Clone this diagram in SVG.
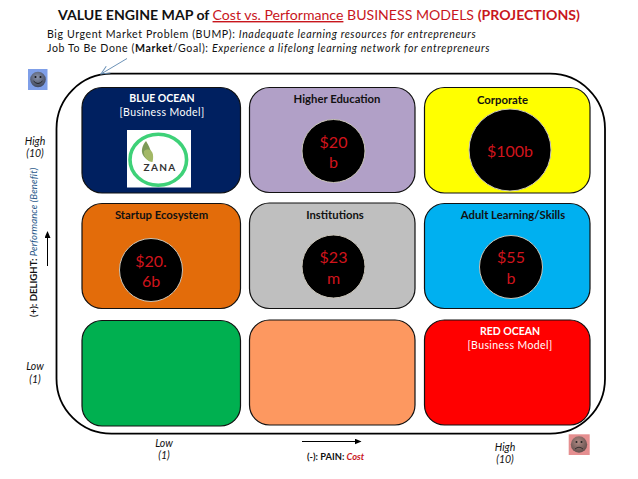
<svg xmlns="http://www.w3.org/2000/svg" width="638" height="479" viewBox="0 0 638 479">
<style>
text{font-family:Lato,"Open Sans",sans-serif;fill:#111}
.cell{stroke:#111;stroke-width:1.2}
.head{font-size:11.3px;font-weight:700;text-anchor:middle}
.ocean{font-size:10.5px;font-weight:700;text-anchor:middle;fill:#fff}
.sub{font-size:10.5px;text-anchor:middle;letter-spacing:.4px;fill:#fff}
.coin{fill:#000;stroke:#c9c4b8;stroke-width:1}
.val{font-size:16px;fill:#d0141c;text-anchor:middle}
.ax{font-size:10.5px;font-style:italic;text-anchor:middle}
.note{font-size:10.6px;letter-spacing:.6px}
.ln{fill:none;stroke:#000;stroke-width:1}
.red{fill:#c8161d}
</style>
<defs>
<marker id="a" markerWidth="7" markerHeight="6" refX="6" refY="3" orient="auto" markerUnits="userSpaceOnUse"><path d="M0 0L7 3L0 6z" fill="#000"/></marker>
<marker id="o" markerWidth="11" markerHeight="10" refX="9.5" refY="5" orient="auto" markerUnits="userSpaceOnUse"><path d="M1 1L9.5 5L1 9" fill="none" stroke="#6d93b8" stroke-width="1"/></marker>
<radialGradient id="sm" cx=".45" cy=".35" r=".7"><stop offset="0" stop-color="#8a93aa"/><stop offset="1" stop-color="#3a4258"/></radialGradient>
<radialGradient id="fr" cx=".45" cy=".35" r=".7"><stop offset="0" stop-color="#b08a84"/><stop offset="1" stop-color="#5e4a48"/></radialGradient>
</defs>
<g id="title">
<text x="58" y="20" font-size="14.1" font-weight="700">VALUE ENGINE MAP of <tspan class="red" font-weight="400" text-decoration="underline">Cost vs. Performance</tspan><tspan class="red" font-weight="400"> BUSINESS MODELS </tspan><tspan class="red">(PROJECTIONS)</tspan></text>
<text class="note" x="47" y="38">Big Urgent Market Problem (BUMP): <tspan font-style="italic">Inadequate learning resources for entrepreneurs</tspan></text>
<text class="note" x="47" y="52">Job To Be Done (<tspan font-weight="700">Market</tspan>/Goal): <tspan font-style="italic">Experience a lifelong learning network for entrepreneurs</tspan></text>
</g>
<g id="frame"><rect x="56.500" y="73.700" width="548.500" height="360" rx="55" ry="55" fill="none" stroke="#000" stroke-width="1.800"/></g>
<g id="connectors">
<path d="M127 58.500L101 74" fill="none" stroke="#6d93b8" stroke-width="1" marker-end="url(#o)"/>
<path class="ln" d="M47.500 266V232" marker-end="url(#a)"/>
<path class="ln" d="M302 441.500H360.500" marker-end="url(#a)"/>
</g>
<g id="happy"><rect x="28" y="69" width="19.500" height="21" fill="#7f9fe8"/><circle cx="38" cy="79.500" r="7.800" fill="url(#sm)"/><circle cx="35.500" cy="77" r="1" fill="#111"/><circle cx="40.500" cy="77" r="1" fill="#111"/><path d="M33.500 81Q38 86 42.500 81" fill="none" stroke="#111" stroke-width=".8"/></g>
<g id="sad"><rect x="568.700" y="434.300" width="21" height="20.700" fill="#e58f90"/><circle cx="579" cy="444.500" r="8.200" fill="url(#fr)"/><circle cx="576.500" cy="442" r="1" fill="#222"/><circle cx="581.500" cy="442" r="1" fill="#222"/><path d="M575 449Q579 445.500 583 449" fill="none" stroke="#222" stroke-width=".8"/></g>
<g id="blue-ocean"><rect class="cell" x="82" y="87.500" width="158.500" height="105.500" rx="20" fill="#002060"/>
<text class="ocean" x="162" y="102">BLUE OCEAN</text><text class="sub" x="162" y="116">[Business Model]</text>
<rect x="127" y="130" width="64" height="57.500" fill="#fff"/><ellipse cx="158.300" cy="159.700" rx="28.300" ry="25.500" fill="none" stroke="#3ed178" stroke-width="3.600"/>
<path d="M146 141C151 149 153 156 150 161C143 158 138 151 146 141z" fill="#7c9a58"/><path d="M144 151C150 147 155 152 152.500 162C148 162 143 157 144 151z" fill="#a3b866"/>
<text x="160" y="171" font-size="10" font-weight="700" letter-spacing="1.300" text-anchor="middle" style="fill:#333">ZANA</text></g>
<g id="higher-education"><rect class="cell" x="249.500" y="87.500" width="165.500" height="105" rx="20" fill="#b1a0c7"/>
<text class="head" x="337" y="103">Higher Education</text><circle class="coin" cx="333.500" cy="151" r="31.500"/><text class="val" x="333.500" y="148">$20</text><text class="val" x="333.500" y="168">b</text></g>
<g id="corporate"><rect class="cell" x="424.500" y="87.500" width="165.500" height="105.500" rx="20" fill="#ff0"/>
<text class="head" x="502.500" y="104">Corporate</text><circle class="coin" cx="510" cy="150" r="41"/><text class="val" x="510" y="157">$100b</text></g>
<g id="startup-ecosystem"><rect class="cell" x="82" y="203.500" width="158.500" height="105" rx="20" fill="#e36c0a"/>
<text class="head" x="161.500" y="219">Startup Ecosystem</text><circle class="coin" cx="151" cy="270" r="31.500"/><text class="val" x="151" y="267">$20.</text><text class="val" x="151" y="287">6b</text></g>
<g id="institutions"><rect class="cell" x="249.500" y="203" width="165.500" height="105.500" rx="20" fill="#bfbfbf"/>
<text class="head" x="335" y="219">Institutions</text><circle class="coin" cx="333.500" cy="266.500" r="31.500"/><text class="val" x="333.500" y="263">$23</text><text class="val" x="333.500" y="284">m</text></g>
<g id="adult-learning"><rect class="cell" x="424.500" y="203.500" width="165.500" height="105" rx="20" fill="#00b0f0"/>
<text class="head" x="513" y="219">Adult Learning/Skills</text><circle class="coin" cx="511" cy="267" r="31.500"/><text class="val" x="511" y="263">$55</text><text class="val" x="511" y="284">b</text></g>
<g id="green"><rect class="cell" x="82" y="320.500" width="158.500" height="105.500" rx="20" fill="#00b050"/></g>
<g id="salmon"><rect class="cell" x="249.500" y="320" width="165.500" height="105" rx="20" fill="#fd9860"/></g>
<g id="red-ocean"><rect class="cell" x="424.500" y="320" width="165.500" height="105" rx="20" fill="#f00"/>
<text class="ocean" x="510" y="335">RED OCEAN</text><text class="sub" x="510" y="349">[Business Model]</text></g>
<g id="axes">
<text class="ax" x="35" y="145">High</text><text class="ax" x="35" y="157">(10)</text>
<text class="ax" x="35" y="370">Low</text><text class="ax" x="35" y="383">(1)</text>
<text class="ax" x="164" y="447">Low</text><text class="ax" x="164" y="459">(1)</text>
<text class="ax" x="505" y="451">High</text><text class="ax" x="505" y="463">(10)</text>
<text transform="translate(37 317) rotate(-90)" font-size="9.600" font-weight="700">(+): DELIGHT: <tspan font-style="italic" font-weight="400" letter-spacing=".1" style="fill:#2a5a8a">Performance (Benefit)</tspan></text>
<text x="307" y="460" font-size="9.300" font-weight="700">(-): PAIN: <tspan class="red" font-style="italic">Cost</tspan></text>
</g>
</svg>
